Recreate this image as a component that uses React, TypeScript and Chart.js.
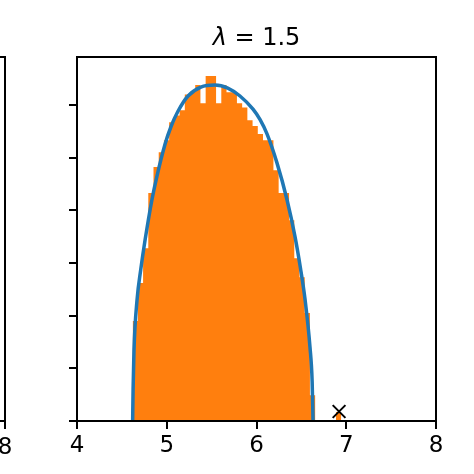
import React, { useEffect, useRef } from "react";
import { Chart, registerables } from "chart.js";

Chart.register(...registerables);

// Histogram (density) of eigenvalues, lambda = 1.5
const BIN_START = 4.62;
const BIN_WIDTH = 0.0581;
const binDensity = [
  0.19, 0.262, 0.328, 0.433, 0.482, 0.51, 0.533, 0.567, 0.58, 0.59,
  0.62, 0.625, 0.638, 0.603, 0.655, 0.655, 0.603, 0.638, 0.624, 0.624,
  0.603, 0.595, 0.571, 0.56, 0.545, 0.533, 0.533, 0.476, 0.433, 0.433,
  0.381, 0.309, 0.273, 0.205, 0.049, 0, 0, 0, 0, 0.017,
];

// Theoretical density curve
const curveX = [
  4.62, 4.625, 4.635, 4.669, 4.71, 4.758, 4.836, 4.891, 4.98, 5.05, 5.125,
  5.237, 5.38, 5.538, 5.68, 5.816, 5.961, 6.04, 6.117, 6.228, 6.34, 6.429,
  6.49, 6.54, 6.596, 6.62, 6.63,
];
const curveY = [
  0, 0.06, 0.135, 0.23, 0.287, 0.343, 0.421, 0.465, 0.525, 0.56, 0.588,
  0.617, 0.634, 0.638, 0.632, 0.617, 0.592, 0.572, 0.545, 0.49, 0.42, 0.35,
  0.29, 0.232, 0.14, 0.075, 0,
];

// Outlier eigenvalue
const outlierX = [6.92];
const outlierY = [0.018];

const title = "= 1.5";
const xTicks = [4, 5, 6, 7, 8];
const yTicks = [0, 0.1, 0.2, 0.3, 0.4, 0.5, 0.6];

const FONT = "'DejaVu Sans', sans-serif";

export default function App() {
  const ref = useRef<HTMLCanvasElement | null>(null);

  useEffect(() => {
    if (!ref.current) return;
    const histData: { x: number; y: number }[] = [];
    histData.push({ x: BIN_START, y: 0 });
    binDensity.forEach((h, i) => {
      histData.push({ x: BIN_START + i * BIN_WIDTH, y: h });
    });
    const end = BIN_START + binDensity.length * BIN_WIDTH;
    histData.push({ x: end, y: 0 });

    const framePlugin = {
      id: "frame",
      afterDraw(chart: any) {
        const { ctx, chartArea } = chart;
        ctx.save();
        ctx.strokeStyle = "#000";
        ctx.lineWidth = 2;
        ctx.strokeRect(
          chartArea.left,
          chartArea.top,
          chartArea.right - chartArea.left,
          chartArea.bottom - chartArea.top
        );
        // neighbouring subplot edge
        ctx.beginPath();
        ctx.moveTo(0, chartArea.top);
        ctx.lineTo(5, chartArea.top);
        ctx.lineTo(5, chartArea.bottom);
        ctx.lineTo(0, chartArea.bottom);
        ctx.moveTo(5, chartArea.bottom);
        ctx.lineTo(5, chartArea.bottom + 8);
        ctx.stroke();
        ctx.fillStyle = "#000";
        ctx.font = `23px ${FONT}`;
        ctx.textAlign = "center";
        ctx.textBaseline = "alphabetic";
        ctx.fillText("8", 5, 454);
        // title
        const cx = (chartArea.left + chartArea.right) / 2;
        ctx.font = `italic 24px ${FONT}`;
        const lw = ctx.measureText("λ").width;
        ctx.font = `24px ${FONT}`;
        const rest = " " + title;
        const rw = ctx.measureText(rest).width;
        const x0 = cx - (lw + rw) / 2;
        ctx.textAlign = "left";
        ctx.font = `italic 24px ${FONT}`;
        ctx.fillText("λ", x0, 45);
        ctx.font = `24px ${FONT}`;
        ctx.fillText(rest, x0 + lw, 45);
        ctx.restore();
      },
    };

    const chart = new Chart(ref.current, {
      type: "line",
      data: {
        datasets: [
          {
            label: "hist",
            data: histData,
            stepped: "before",
            fill: "origin",
            backgroundColor: "#ff7f0e",
            borderWidth: 0,
            borderColor: "rgba(0,0,0,0)",
            pointRadius: 0,
            order: 3,
          } as any,
          {
            label: "density",
            data: curveX.map((x, i) => ({ x, y: curveY[i] })),
            borderColor: "#1f77b4",
            borderWidth: 3.5,
            pointRadius: 0,
            cubicInterpolationMode: "monotone",
            fill: false,
            order: 2,
          } as any,
          {
            label: "outlier",
            data: outlierX.map((x, i) => ({ x, y: outlierY[i] })),
            showLine: false,
            pointStyle: "crossRot",
            pointRadius: 9,
            pointBorderColor: "#000",
            pointBorderWidth: 2,
            order: 1,
          } as any,
        ],
      },
      options: {
        animation: false,
        responsive: true,
        maintainAspectRatio: false,
        layout: { padding: { top: 57, right: 38, left: 0, bottom: 0 } },
        plugins: {
          legend: { display: false },
          tooltip: { enabled: false },
          title: { display: false },
        },
        scales: {
          x: {
            type: "linear",
            min: 4,
            max: 8,
            afterBuildTicks: (s: any) => {
              s.ticks = xTicks.map((v) => ({ value: v }));
            },
            afterFit: (s: any) => {
              s.height = 53;
            },
            ticks: {
              color: "#000",
              font: { family: FONT, size: 23 },
              padding: 3,
              maxRotation: 0,
            },
            grid: {
              display: true,
              drawOnChartArea: false,
              drawTicks: true,
              tickLength: 8,
              color: "#000",
              lineWidth: 2,
            },
            border: { display: true, color: "#000", width: 2 },
          },
          y: {
            type: "linear",
            min: 0,
            max: 0.691,
            afterBuildTicks: (s: any) => {
              s.ticks = yTicks.map((v) => ({ value: v }));
            },
            afterFit: (s: any) => {
              s.width = 77;
            },
            ticks: {
              callback: () => "",
              padding: 0,
            },
            grid: {
              display: true,
              drawOnChartArea: false,
              drawTicks: true,
              tickLength: 8,
              color: "#000",
              lineWidth: 2,
            },
            border: { display: true, color: "#000", width: 2 },
          },
        },
      } as any,
      plugins: [framePlugin],
    });
    return () => chart.destroy();
  }, []);

  return (
    <div
      style={{
        position: "fixed",
        left: 0,
        top: 0,
        width: 474,
        height: 474,
        background: "#fff",
      }}
    >
      <canvas ref={ref} />
    </div>
  );
}
